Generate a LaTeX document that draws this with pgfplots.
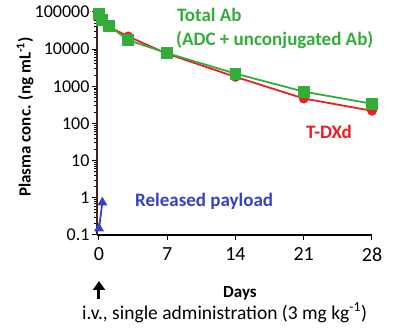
\documentclass[border=0pt]{standalone}
\usepackage{pgfplots}
\pgfplotsset{compat=1.18}
\usepackage{fontspec}
\setmainfont{Carlito}
\usetikzlibrary{arrows.meta}
\definecolor{tgreen}{RGB}{52,172,58}
\definecolor{tred}{RGB}{236,30,36}
\definecolor{tblue}{RGB}{52,66,196}
\definecolor{yaxis}{RGB}{70,30,30}
\begin{document}
\begin{tikzpicture}
\begin{axis}[
  scale only axis,
  width=275pt, height=223pt,
  xmin=-0.2, xmax=28,
  ymode=log, ymin=0.1, ymax=100000,
  axis x line=bottom, axis y line=left,
  axis line style={-, line width=1.1pt},
  y axis line style={draw=yaxis},
  xtick={0,7,14,21,28},
  ytick={0.1,1,10,100,1000,10000,100000},
  yticklabels={0.1,1,10,100,1000,10000,100000},
  minor ytick={},
  tick align=outside,
  major tick length=5pt,
  tick style={line width=1pt, black},
  /pgf/number format/assume math mode=true,
  xticklabel style={font=\fontsize{20}{22}\selectfont, yshift=-4pt},
  yticklabel style={font=\fontsize{18}{20}\selectfont, xshift=1pt},
  clip=false,
]
\addplot[tred, line width=1.8pt, mark=*, mark size=4pt] coordinates {
 (0.0035,85000) (0.29,60000) (1,40000) (3,22000) (7,7500) (14,1800) (21,470) (28,220)};
\addplot[tgreen, line width=1.8pt, mark=square*, mark size=5pt] coordinates {
 (0.0035,90000) (0.29,62000) (1,43000) (3,17500) (7,7800) (14,2200) (21,720) (28,340)};
\addplot[tblue, line width=1.8pt, mark=triangle*, mark size=4pt] coordinates {
 (0.0035,0.15) (0.35,0.75)};
\coordinate (O) at (rel axis cs:0,0);
\end{axis}
\path[use as bounding box] ([shift={(-97pt,-97pt)}]O) rectangle ([shift={(305pt,235pt)}]O);
\node[anchor=west, text=tgreen, font=\fontsize{19}{21}\selectfont\bfseries, inner sep=0pt] at ([shift={(80pt,220pt)}]O) {Total Ab};
\node[anchor=west, text=tgreen, font=\fontsize{19}{21}\selectfont\bfseries, inner sep=0pt] at ([shift={(79pt,195pt)}]O) {(ADC + unconjugated Ab)};
\node[anchor=west, text=tred, font=\fontsize{19}{21}\selectfont\bfseries, inner sep=0pt] at ([shift={(209pt,103pt)}]O) {T-DXd};
\node[anchor=west, text=tblue, font=\fontsize{19}{21}\selectfont\bfseries, inner sep=0pt] at ([shift={(38pt,34pt)}]O) {Released payload};
\node[rotate=90, font=\fontsize{17}{19}\selectfont\bfseries, inner sep=0pt] at ([shift={(-72pt,118pt)}]O) {Plasma conc. (ng mL\textsuperscript{-1})};
\node[font=\fontsize{17}{19}\selectfont\bfseries, inner sep=0pt] at ([shift={(143pt,-58pt)}]O) {Days};
\node[anchor=west, font=\fontsize{19.5}{21}\selectfont, inner sep=0pt] at ([shift={(-15pt,-78pt)}]O) {i.v., single administration (3 mg kg\textsuperscript{-1})};
\draw[line width=3pt, -{Triangle[length=9pt,width=12pt]}] ([shift={(2pt,-64pt)}]O) -- ([shift={(2pt,-46pt)}]O);
\end{tikzpicture}
\end{document}
